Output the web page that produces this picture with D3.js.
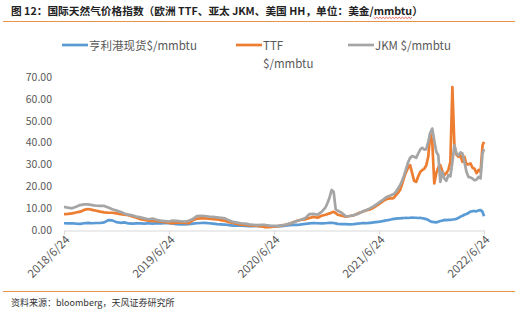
<!DOCTYPE html>
<html><head><meta charset="utf-8">
<script src="https://cdn.jsdelivr.net/npm/d3@7"></script>
<style>
body{margin:0;background:#fff;}
svg{display:block;font-family:"Noto Sans CJK SC","Noto Sans",sans-serif;}
</style></head>
<body>
<svg id="chart" width="523" height="312"></svg>
<script>
const titleParts = ["图 12：国际天然气价格指数（欧洲 TTF、亚太 JKM、美国 HH，单位：美金/", "mmbtu", "）"];
const sourceText = "资料来源：bloomberg，天风证券研究所";
const seriesNames = ["亨利港现货$/mmbtu", "TTF $/mmbtu", "JKM $/mmbtu"];
const yTicks = [0, 10, 20, 30, 40, 50, 60, 70];
const xTickLabels = ["2018/6/24", "2019/6/24", "2020/6/24", "2021/6/24", "2022/6/24"];

const dates = [
"2018-06-24","2018-07-08","2018-07-22","2018-08-05","2018-08-19","2018-09-02","2018-09-16","2018-09-30","2018-10-14","2018-10-28",
"2018-11-11","2018-11-25","2018-12-09","2018-12-23","2019-01-06","2019-01-20","2019-02-03","2019-02-17","2019-03-03","2019-03-17",
"2019-03-31","2019-04-14","2019-04-28","2019-05-12","2019-05-26","2019-06-09","2019-06-23","2019-07-07","2019-07-21","2019-08-04",
"2019-08-18","2019-09-01","2019-09-15","2019-09-29","2019-10-13","2019-10-27","2019-11-10","2019-11-24","2019-12-08","2019-12-22",
"2020-01-05","2020-01-19","2020-02-02","2020-02-16","2020-03-01","2020-03-15","2020-03-29","2020-04-12","2020-04-26","2020-05-10",
"2020-05-24","2020-06-07","2020-06-21","2020-07-05","2020-07-19","2020-08-02","2020-08-16","2020-08-30","2020-09-13","2020-09-27",
"2020-10-11","2020-10-25","2020-11-08","2020-11-22","2020-12-06","2020-12-20","2020-12-27","2021-01-03","2021-01-10","2021-01-17",
"2021-01-24","2021-01-31","2021-02-14","2021-02-28","2021-03-14","2021-03-28","2021-04-11","2021-04-25","2021-05-09","2021-05-23",
"2021-06-06","2021-06-20","2021-06-27","2021-07-04","2021-07-11","2021-07-18","2021-07-25","2021-08-01","2021-08-08","2021-08-15",
"2021-08-22","2021-08-29","2021-09-05","2021-09-12","2021-09-19","2021-09-26","2021-10-03","2021-10-10","2021-10-17","2021-10-24",
"2021-10-31","2021-11-07","2021-11-14","2021-11-21","2021-11-28","2021-12-05","2021-12-12","2021-12-19","2021-12-26","2022-01-02",
"2022-01-09","2022-01-16","2022-01-23","2022-01-30","2022-02-06","2022-02-13","2022-02-20","2022-02-27","2022-03-06","2022-03-13",
"2022-03-20","2022-03-27","2022-04-03","2022-04-10","2022-04-17","2022-04-24","2022-05-01","2022-05-08","2022-05-15","2022-05-22",
"2022-05-29","2022-06-05","2022-06-12","2022-06-19","2022-06-24"];

const hhValues = [
3.1,3.0,3.1,2.9,2.8,3.1,3.3,3.1,3.2,3.2,
3.5,4.5,4.4,3.6,3.3,3.5,3.0,2.9,3.0,3.0,
2.9,3.1,2.9,3.1,3.0,3.1,3.1,2.9,2.7,2.6,
2.6,2.7,2.9,3.1,3.2,3.3,3.1,2.9,2.7,2.6,
2.5,2.2,2.0,2.0,2.0,1.9,1.8,1.8,1.9,1.8,
1.9,1.8,1.7,1.8,1.8,2.0,2.2,2.3,2.3,2.6,
2.8,3.0,3.2,3.1,3.0,3.1,3.2,3.3,3.3,3.2,
3.0,2.8,2.7,2.7,2.6,2.7,2.9,3.1,3.1,3.3,
3.5,3.7,3.8,4.0,4.2,4.4,4.5,4.7,4.9,5.1,
5.2,5.3,5.3,5.4,5.5,5.6,5.5,5.6,5.7,5.6,
5.6,5.5,5.6,5.4,5.2,5.0,4.6,4.0,3.7,3.6,
3.5,3.8,4.1,4.3,4.6,4.5,4.6,4.6,4.8,4.9,
5.1,5.5,6.1,6.5,7.0,7.3,7.8,8.4,8.6,8.7,
8.5,9.0,9.1,8.3,6.3];

const ttfValues = [
7.3,7.4,7.6,8.0,8.4,9.2,9.6,9.2,8.8,8.4,
8.1,7.9,7.9,7.6,7.3,7.0,6.8,6.2,5.6,4.9,
4.6,4.3,4.2,4.0,3.8,3.6,3.3,3.1,3.4,3.4,
3.2,3.1,4.5,5.2,5.3,5.3,5.2,5.0,4.9,4.5,
4.2,3.6,3.2,2.8,2.4,2.3,2.1,2.0,1.9,1.7,
1.3,1.3,1.5,1.7,2.0,2.4,2.8,3.5,4.2,4.7,
4.9,5.5,6.0,5.6,6.5,7.0,7.3,7.6,8.0,8.3,
7.8,7.0,6.5,6.1,6.4,6.7,7.6,8.2,8.9,9.4,
10.3,11.5,12.2,12.8,13.5,14.0,14.3,14.5,14.4,14.8,
16.0,17.0,18.3,21.0,24.0,26.5,28.5,29.7,26.0,22.5,
22.0,24.5,26.5,27.4,28.0,29.5,33.5,44.2,40.3,21.3,
26.0,28.6,29.7,27.0,25.1,26.0,27.5,31.2,65.4,38.8,
34.5,33.5,34.2,31.2,33.5,30.0,30.0,30.5,28.5,28.0,
26.0,27.5,26.6,38.8,40.3];

const jkmValues = [
10.6,10.2,9.9,10.6,11.4,11.7,11.7,11.4,11.1,11.0,
11.0,10.3,9.5,8.9,8.3,7.5,7.0,6.7,6.1,5.8,
5.3,4.9,5.2,4.7,4.3,4.1,3.9,4.3,4.2,4.0,
3.8,4.2,5.0,6.4,6.5,6.4,6.1,6.0,5.8,5.6,
5.3,4.4,3.7,3.4,3.1,2.9,2.6,2.4,2.2,2.3,
2.3,2.0,1.9,1.8,2.1,2.4,2.9,3.5,4.2,4.8,
5.5,7.3,7.4,7.0,8.3,10.4,12.5,15.0,18.3,17.5,
9.5,8.8,7.9,6.3,6.4,6.8,7.3,8.3,9.0,9.9,
10.9,12.2,12.9,13.5,14.2,14.9,15.4,15.7,16.1,16.5,
17.5,19.0,20.5,22.5,25.0,28.0,31.0,33.0,33.8,33.5,
33.0,35.0,36.8,37.6,36.8,37.0,40.3,44.5,46.4,41.0,
35.8,34.2,22.0,26.6,23.5,22.5,25.1,24.5,31.0,38.8,
35.0,34.2,35.5,35.0,31.0,26.6,24.3,24.0,23.6,22.8,
23.0,24.3,23.6,35.0,37.0];

const colors = ["#5B9BD5", "#ED7D31", "#A5A5A5"];
const accent = "#E8954A";

const svg = d3.select("#chart");
const parse = d3.timeParse("%Y-%m-%d");
const parseTick = d3.timeParse("%Y/%m/%d");
const xDates = dates.map(parse);

const x = d3.scaleTime().domain([parse("2018-06-24"), parse("2022-06-24")]).range([64, 484]);
const y = d3.scaleLinear().domain([0, 70]).range([230, 77]);

// title
const title = svg.append("text").attr("x", 11).attr("y", 15).attr("font-size", 10.7).attr("font-weight", "bold")
  .attr("fill", "#222");
const spans = titleParts.map(t => title.append("tspan").text(t));
svg.append("line").attr("x1", 3).attr("x2", 515).attr("y1", 21.5).attr("y2", 21.5)
  .attr("stroke", accent).attr("stroke-width", 1);
// spell-check style wavy underline under "mmbtu"
(function(){
  const x0 = 11 + spans[0].node().getComputedTextLength();
  const x1 = x0 + spans[1].node().getComputedTextLength();
  const pts = [];
  for (let px = x0, k = 0; px <= x1 + 0.1; px += 1.6, k++) pts.push([px, k % 2 ? 18.6 : 17.2]);
  svg.append("path").attr("d", d3.line()(pts)).attr("fill", "none").attr("stroke", "#E0403A").attr("stroke-width", 0.8);
})();

// y axis labels
const yAxis = d3.axisLeft(y).tickValues(yTicks).tickFormat(d3.format(".2f")).tickSize(0).tickPadding(0);
const ya = svg.append("g").attr("transform", "translate(52,0)").call(yAxis);
ya.select(".domain").remove();
ya.selectAll("text").attr("font-size", 10.5).attr("fill", "#595959")
  .attr("font-family", "'Noto Sans CJK SC','Noto Sans',sans-serif");

// x axis
const xTicks = xTickLabels.map(s => parseTick(s));
const xAxis = d3.axisBottom(x).tickValues(xTicks).tickFormat(d3.timeFormat("%Y/%-m/%-d")).tickSize(4).tickSizeOuter(0);
const xa = svg.append("g").attr("transform", "translate(0,230.5)").call(xAxis);
xa.select(".domain").attr("stroke", "#d9d9d9");
xa.selectAll(".tick line").attr("stroke", "#d9d9d9");
xa.selectAll("text").attr("font-size", 11.5).attr("fill", "#595959")
  .attr("font-family", "'Noto Sans CJK SC','Noto Sans',sans-serif")
  .attr("text-anchor", "end").attr("x", 0).attr("y", 0).attr("dy", 0)
  .attr("transform", "translate(6,10) rotate(-45)");

// lines
const allSeries = [hhValues, ttfValues, jkmValues];
const line = d3.line().x((d, i) => x(xDates[i])).y(d => y(d));
allSeries.forEach((vals, k) => {
  svg.append("path").datum(vals).attr("d", line).attr("fill", "none")
    .attr("stroke", colors[k]).attr("stroke-width", 2.7).attr("stroke-linejoin", "round");
});

// legend
const legend = [
  {x: 62, label: ["亨利港现货$/mmbtu"]},
  {x: 236, label: ["TTF", "$/mmbtu"]},
  {x: 348, label: ["JKM $/mmbtu"]}
];
legend.forEach((l, k) => {
  svg.append("line").attr("x1", l.x).attr("x2", l.x + 26).attr("y1", 45).attr("y2", 45)
    .attr("stroke", colors[k]).attr("stroke-width", 2.7);
  l.label.forEach((t, j) => {
    svg.append("text").attr("x", l.x + 27).attr("y", 49.5 + j * 18).attr("font-size", 11.5)
      .attr("fill", "#595959").text(t);
  });
});

// source
svg.append("line").attr("x1", 3).attr("x2", 515).attr("y1", 291.5).attr("y2", 291.5)
  .attr("stroke", accent).attr("stroke-width", 1);
svg.append("text").attr("x", 11).attr("y", 306).attr("font-size", 9).attr("fill", "#333").text(sourceText);
</script>
</body></html>
